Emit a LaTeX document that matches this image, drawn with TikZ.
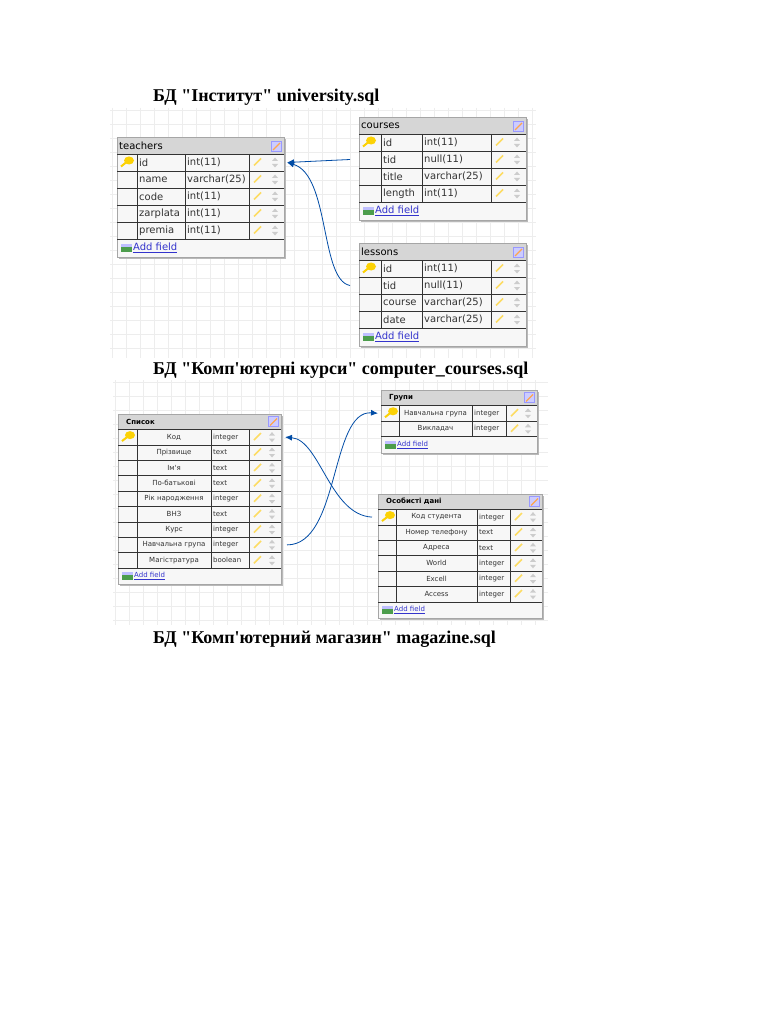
\documentclass[tikz,border=0pt]{standalone}
\usepackage{fontspec}
\setmainfont{Liberation Serif}[Ligatures=TeXOff]
\newfontfamily\tabfont{DejaVu Sans}[Ligatures=TeXOff]
\usetikzlibrary{arrows.meta}
\tikzset{
  hdr/.style={fill=gray!32},
  titletext/.style={font=\bfseries\fontsize{18}{20}\selectfont, anchor=west, inner sep=0},
  link/.style={draw=blue!50!black!70!cyan, line width=0.8pt, -{Latex[length=7pt,width=6pt]}},
  grid/.style={draw=gray!14, line width=0.4pt},
}
\newcommand\dbtab[9]{%
  \pgfmathsetmacro\yh{#7+#8}%
  \pgfmathsetmacro\yr{\yh+\nrows*#8}%
  \pgfmathsetmacro\ye{\yr+#8+1}%
  \fill[gray!55] (#2+2,#7+2) rectangle (#6+2,\ye+2);
  \draw[gray!70,fill=gray!6] (#2,#7) rectangle (#6,\ye);
  \fill[hdr] (#2,#7) rectangle (#6,\yh);
  \draw[gray!70] (#2,#7) rectangle (#6,\ye);
  \node[anchor=west,inner sep=1pt,font=\tabfont\fsz] (#1-title) at (#2+1+\tind,{(#7+\yh)/2}) {#9};
  \fill[blue!20] (#6-13,{\yh-13}) rectangle (#6-3,{\yh-3});
  \draw[blue!40] (#6-13,{\yh-13}) rectangle (#6-3,{\yh-3});
  \draw[orange!70,line width=1.2pt] (#6-11,{\yh-4}) -- (#6-4,{\yh-11});
  \foreach \n/\t [count=\i] in \rowlist {
    \pgfmathsetmacro\ya{\yh+(\i-1)*#8}
    \pgfmathsetmacro\yb{\ya+#8}
    \pgfmathsetmacro\ym{(\ya+\yb)/2}
    \draw[black!80,line width=0.6pt] (#2,\yb) -- (#6,\yb);
    \draw[black!80,line width=0.6pt] (#3,\ya) -- (#3,\yb) (#4,\ya) -- (#4,\yb) (#5,\ya) -- (#5,\yb);
    \ifx\nal\empty
      \node[anchor=west,inner sep=1pt,font=\tabfont\fsz,text=black!80] (#1-n\i) at (#3+1,\ym) {\n};
    \else
      \node[inner sep=1pt,font=\tabfont\fsz,text=black!80] (#1-n\i) at ({(#3+#4)/2},\ym) {\n};
    \fi
    \node[anchor=west,inner sep=1pt,font=\tabfont\fsz,text=black!80] (#1-t\i) at (#4+1,\ym) {\t};
    \draw[yellow!60!orange!60,line width=1.6pt] ({#5+5},\ym+3) -- ({#5+12},\ym-4);
    \fill[gray!40] ({#6-12},\ym-1.5) -- ({#6-9},\ym-5) -- ({#6-6},\ym-1.5) -- cycle;
    \fill[gray!40] ({#6-12},\ym+1.5) -- ({#6-9},\ym+5) -- ({#6-6},\ym+1.5) -- cycle;
    \coordinate (#1-r\i) at (#6,\ym);
    \coordinate (#1-l\i) at (#2,\ym);
  }
  \draw[black!80,line width=0.6pt] (#2,\yh) -- (#6,\yh);
  \pgfmathsetmacro\yk{\yh+#8/2}
  \draw[yellow!70!orange,line width=2pt] ({#2+4},\yk+4) -- ({#2+9},\yk);
  \fill[yellow!70!orange] ({#2+12},\yk-2) ellipse (5 and 4);
  \pgfmathsetmacro\yf{(\yr+\ye)/2}
  \fill[green!45!black!70] ({#2+4},\yf-4) rectangle ({#2+15},\yf+4);
  \fill[blue!25] ({#2+4},\yf-4) rectangle ({#2+15},\yf-1);
  \node[anchor=west,inner sep=1pt,font=\tabfont\fsz,text=blue!60!gray] (#1-add) at ({#2+15},\yf) {\underline{Add field}};
}
\begin{document}
\begin{tikzpicture}[x=1pt,y=-1pt]
\useasboundingbox (0,0) rectangle (768,1024);
\fill[white] (0,0) rectangle (768,1024);
\foreach \x in {112,126,...,534} \draw[grid] (\x,108) -- (\x,358);
\foreach \y in {110,124,...,356} \draw[grid] (110,\y) -- (536,\y);
\foreach \x in {115,129,...,547} \draw[grid] (\x,380) -- (\x,625);
\foreach \y in {382,396,...,624} \draw[grid] (113,\y) -- (548,\y);

\node[titletext] (t1) at (153,97) {БД "Інститут" university.sql};
\node[titletext] (t2) at (153,370) {БД "Комп'ютерні курси" computer\_courses.sql};
\node[titletext] (t3) at (153,639) {БД "Комп'ютерний магазин" magazine.sql};

\def\fsz{\fontsize{10}{12}\selectfont}
\def\tind{0}
\let\nal\empty
\def\nrows{5}
\def\rowlist{id/int(11),name/varchar(25),code/int(11),zarplata/int(11),premia/int(11)}
\dbtab{teachers}{117}{137}{185}{249}{284}{137}{17}{teachers}
\def\nrows{4}
\def\rowlist{id/int(11),tid/null(11),title/varchar(25),length/int(11)}
\dbtab{courses}{359}{381}{422}{491}{526}{117}{17}{courses}
\def\rowlist{id/int(11),tid/null(11),course/varchar(25),date/varchar(25)}
\dbtab{lessons}{359}{381}{422}{491}{526}{243}{17}{lessons}

\def\fsz{\fontsize{7}{8}\selectfont}
\def\tind{6}
\def\nal{c}
\def\nrows{9}
\def\rowlist{Код/integer,Прізвище/text,Ім'я/text,По-батькові/text,Рік народження/integer,ВНЗ/text,Курс/integer,Навчальна група/integer,Магістратура/boolean}
\dbtab{spysok}{118}{137}{211}{249}{281}{414}{15.4}{\textbf{Список}}
\def\nrows{2}
\def\rowlist{Навчальна група/integer,Викладач/integer}
\dbtab{grupy}{381}{399}{472}{506}{537}{390}{15.5}{\textbf{Групи}}
\def\nrows{6}
\def\rowlist{Код студента/integer,Номер телефону/text,Адреса/text,World/integer,Excell/integer,Access/integer}
\dbtab{osob}{378}{396}{477}{510}{542}{494}{15.4}{\textbf{Особисті дані}}

\path[link] ([xshift=-9pt]courses-l2) -- ([xshift=3pt]teachers-r1);
\path[link] ([xshift=-9pt]lessons-l2) .. controls (320,280) and (330,175) .. ([xshift=3pt]teachers-r1);
\path[link] ([xshift=6pt]spysok-r8) .. controls (340,545) and (330,410) .. ([xshift=-3pt]grupy-l1);
\path[link] ([xshift=-6pt]osob-l1) .. controls (330,515) and (320,440) .. ([xshift=4pt]spysok-r1);
\end{tikzpicture}
\end{document}
